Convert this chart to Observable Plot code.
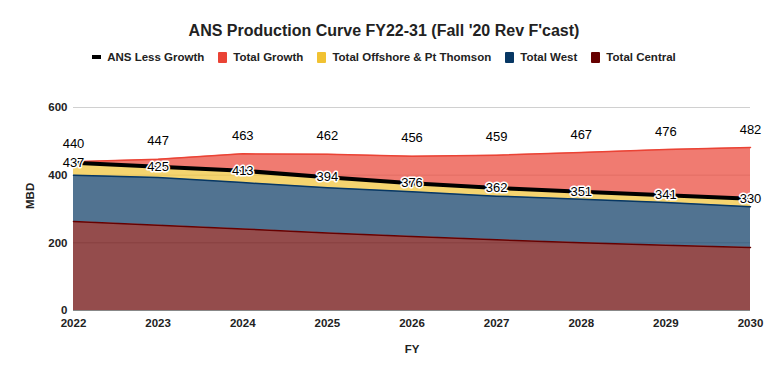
<!DOCTYPE html>
<html>
<head>
<meta charset="utf-8">
<script src="https://cdn.jsdelivr.net/npm/d3@7"></script>
<script src="https://cdn.jsdelivr.net/npm/@observablehq/plot@0.6"></script>
<style>
  body { margin: 0; background: #fff; font-family: "Liberation Sans", Arial, sans-serif; }
  #wrap { position: relative; width: 768px; height: 378px; overflow: hidden; }
  #title { position: absolute; top: 22px; left: 0; width: 768px; text-align: center; font-weight: bold; font-size: 16px; color: #222; }
  #legend { position: absolute; top: 51px; left: 0; width: 768px; display: flex; justify-content: center; gap: 14px; font-weight: bold; font-size: 11.5px; color: #222; }
  .item { display: flex; align-items: center; gap: 6px; }
  .sw { width: 9px; height: 11px; border-radius: 1px; }
  .ln { width: 9px; height: 4px; }
  #chart { position: absolute; top: 72px; left: 0; }
</style>
</head>
<body>
<div id="wrap">
  <div id="title">ANS Production Curve FY22-31 (Fall '20 Rev F'cast)</div>
  <div id="legend"></div>
  <div id="chart"></div>
</div>
<script>
const years = [2022, 2023, 2024, 2025, 2026, 2027, 2028, 2029, 2030];
const totalCentral  = [263, 252, 241, 229, 219, 209, 200, 193, 186];
const totalWest     = [137, 141, 137, 134, 132, 129, 129, 126, 121];
const totalOffshore = [37, 32, 35, 31, 25, 24, 22, 22, 23];
const totalGrowth   = [3, 22, 50, 68, 80, 97, 116, 135, 152];
const yTicks = [0, 200, 400, 600];

const seriesNames = ["ANS Less Growth", "Total Growth", "Total Offshore & Pt Thomson", "Total West", "Total Central"];
const seriesColors = ["#000000", "#ea4335", "#f1c232", "#073763", "#660000"];

const rows = years.map((year, i) => {
  const c = totalCentral[i];
  const w = c + totalWest[i];
  const a = w + totalOffshore[i];
  const t = a + totalGrowth[i];
  return {year, central: c, westTop: w, ans: a, total: t};
});

// legend
const legend = document.getElementById("legend");
seriesNames.forEach((name, i) => {
  const it = document.createElement("div");
  it.className = "item";
  const sw = document.createElement("div");
  sw.className = i === 0 ? "ln" : "sw";
  sw.style.background = seriesColors[i];
  const tx = document.createElement("span");
  tx.textContent = name;
  it.appendChild(sw); it.appendChild(tx);
  legend.appendChild(it);
});

const op = 0.7;
const chart = Plot.plot({
  width: 768,
  height: 306,
  marginLeft: 73,
  marginRight: 18,
  marginTop: 35,
  marginBottom: 68,
  style: {fontFamily: "'Liberation Sans', Arial, sans-serif", fontSize: "11.5px", fontWeight: "bold", color: "#222", background: "transparent"},
  x: {type: "linear", domain: [2022, 2030]},
  y: {domain: [0, 600]},
  marks: [
    Plot.gridY([200, 400, 600], {stroke: "#d0d0d0", strokeOpacity: 1}),
    Plot.areaY(rows, {x: "year", y1: 0, y2: "central", fill: seriesColors[4], fillOpacity: op}),
    Plot.areaY(rows, {x: "year", y1: "central", y2: "westTop", fill: seriesColors[3], fillOpacity: op}),
    Plot.areaY(rows, {x: "year", y1: "westTop", y2: "ans", fill: seriesColors[2], fillOpacity: op}),
    Plot.areaY(rows, {x: "year", y1: "ans", y2: "total", fill: seriesColors[1], fillOpacity: op}),
    Plot.lineY(rows, {x: "year", y: "central", stroke: seriesColors[4], strokeWidth: 1.5}),
    Plot.lineY(rows, {x: "year", y: "westTop", stroke: seriesColors[3], strokeWidth: 1.5}),
    Plot.lineY(rows, {x: "year", y: "total", stroke: seriesColors[1], strokeWidth: 1.5}),
    Plot.lineY(rows, {x: "year", y: "ans", stroke: seriesColors[0], strokeWidth: 4}),
    Plot.ruleY([0], {stroke: "#888"}),
    Plot.axisY({ticks: yTicks, tickSize: 0, tickPadding: 6, label: null}),
    Plot.axisX({ticks: years, tickFormat: "d", tickSize: 0, tickPadding: 8, label: null}),
    Plot.text(rows, {x: "year", y: "ans", text: d => String(d.ans), fontSize: 13, fontWeight: "normal", fill: "#000", stroke: "#fff", strokeWidth: 3}),
    Plot.text(rows, {x: "year", y: "total", text: d => String(d.total), dy: -18, fontSize: 13, fontWeight: "normal", fill: "#000"}),
    Plot.text(["FY"], {frameAnchor: "bottom", dy: 42, fontSize: 11.5, fontWeight: "bold"}),
    Plot.text(["MBD"], {frameAnchor: "left", dx: -43, rotate: -90, fontSize: 11.5, fontWeight: "bold"})
  ]
});
document.getElementById("chart").appendChild(chart);
</script>
</body>
</html>
